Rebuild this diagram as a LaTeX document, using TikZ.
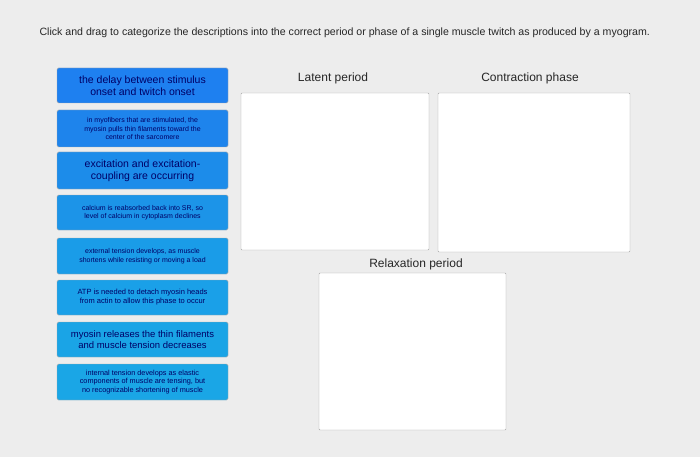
\documentclass[tikz,border=0pt]{standalone}
\usepackage{fontspec}
\setmainfont{Liberation Sans}
\begin{document}
\begin{tikzpicture}[x=1pt,y=-1pt,
 card/.style={draw=black!35,rounded corners=1.5pt,minimum width=171pt,align=center,text=blue!40!black,inner sep=1pt},
 drop/.style={draw=black!35,fill=white,rounded corners=1pt},
 head/.style={font=\fontsize{12}{14}\selectfont,text=black!85}]
\fill[black!7] (0,0) rectangle (700,457);
\useasboundingbox (0,0) rectangle (700,457);
\node[anchor=west,font=\fontsize{10.6}{12}\selectfont,text=black!85] (title) at (36,33) {Click and drag to categorize the descriptions into the correct period or phase of a single muscle twitch as produced by a myogram.};
\node[card,fill={rgb,255:red,30;green,128;blue,240},minimum height=35pt,font=\fontsize{10.5}{12}\selectfont] (c1) at (142.5,85.5) {the delay between stimulus\\onset and twitch onset};
\node[card,fill={rgb,255:red,30;green,132;blue,236},minimum height=37pt,font=\fontsize{7}{8.5}\selectfont] (c2) at (142.5,128.5) {in myofibers that are stimulated, the\\myosin pulls thin filaments toward the\\center of the sarcomere};
\node[card,fill={rgb,255:red,28;green,140;blue,234},minimum height=37pt,font=\fontsize{10.5}{12}\selectfont] (c3) at (142.5,170.5) {excitation and excitation-\\coupling are occurring};
\node[card,fill={rgb,255:red,28;green,148;blue,232},minimum height=35pt,font=\fontsize{7}{8.5}\selectfont] (c4) at (142.5,212.5) {calcium is reabsorbed back into SR, so\\level of calcium in cytoplasm declines};
\node[card,fill={rgb,255:red,26;green,156;blue,232},minimum height=36pt,font=\fontsize{7}{8.5}\selectfont] (c5) at (142.5,256) {external tension develops, as muscle\\shortens while resisting or moving a load};
\node[card,fill={rgb,255:red,26;green,160;blue,232},minimum height=35pt,font=\fontsize{7.5}{9}\selectfont] (c6) at (142.5,297.5) {ATP is needed to detach myosin heads\\from actin to allow this phase to occur};
\node[card,fill={rgb,255:red,26;green,164;blue,230},minimum height=35pt,font=\fontsize{9.5}{11}\selectfont] (c7) at (142.5,339.5) {myosin releases the thin filaments\\and muscle tension decreases};
\node[card,fill={rgb,255:red,26;green,166;blue,230},minimum height=36pt,font=\fontsize{7.3}{8.3}\selectfont] (c8) at (142.5,382) {internal tension develops as elastic\\components of muscle are tensing, but\\no recognizable shortening of muscle};
\node[head] (h1) at (333,78) {Latent period};
\node[head] (h2) at (530,78) {Contraction phase};
\node[head] (h3) at (416,264) {Relaxation period};
\draw[drop] (241,93) rectangle (429,250);
\draw[drop] (438,93) rectangle (630,252);
\draw[drop] (319,273) rectangle (506,430);
\end{tikzpicture}
\end{document}
